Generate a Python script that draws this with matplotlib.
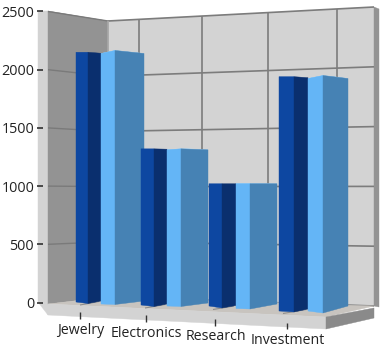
import matplotlib
matplotlib.use("Agg")
import matplotlib.pyplot as plt
from matplotlib.patches import Polygon

categories = ["Jewelry", "Electronics", "Research", "Investment"]
series_a = [2150, 1320, 1020, 1940]
series_b = [2165, 1320, 1020, 1950]
y_ticks = [0, 500, 1000, 1500, 2000, 2500]

# layout in pixels of the 387x355 picture
Y0 = 302.5
K = 291.0 / 2500
bar_x = [(76, 88, 101, 115, 144), (141, 154, 167, 181, 208),
         (209, 222, 236, 250, 277), (279, 294, 308, 323, 348)]
base_a = [(302, 303.5, 301), (305, 306.5, 304), (306, 308, 305.5), (311, 312, 309)]
base_b = [(304, 304.5, 301), (306, 306.5, 303), (308.5, 309, 304), (311, 313, 306)]
tilt = [3, 1, 0, 3]
wall_v = [138.5, 202, 268, 337]
tick_x = [80, 146, 215, 287]
tick_y = [312, 315, 319, 322.5]
label_y = [331, 333.5, 337, 341]

BLUE = "#0d47a1"
NAVY = "#0a2f6e"
LIGHT = "#64b5f6"
STEEL = "#4682b4"
CAP = "#a9d3f5"
WALL = "#d3d3d3"
SIDE = "#939393"
GRID = "#7c7c7c"


def py(p):
    # pixel row to value on the y axis
    return (Y0 - p) / K


def poly(ax, pts, color, z=1):
    ax.add_patch(Polygon([(x, py(y)) for x, y in pts], closed=True, fc=color, ec=color,
                         lw=0.3, zorder=z, clip_on=False))


def line(ax, p0, p1, color=GRID, lw=1.2, z=2):
    ax.plot([p0[0], p1[0]], [py(p0[1]), py(p1[1])], color=color, lw=lw, zorder=z,
            clip_on=False, solid_capstyle="butt")


def back_y(x, v):
    # level v on the back wall, which runs a bit taller on the right
    t = (x - 108.0) / (374 - 108.0)
    left = 297 - v * 276.0 / 2500
    right = 306 - v * 299.0 / 2500
    return left + (right - left) * t


plt.rcParams["font.family"] = ["Open Sans", "DejaVu Sans"]
fig = plt.figure(figsize=(3.87, 3.55), dpi=100)
ax = fig.add_axes([43 / 387, 0, 344 / 387, 1])
ax.set_xlim(43, 387)
ax.set_ylim(py(355), py(0))
for s in ax.spines.values():
    s.set_visible(False)

# walls
poly(ax, [(108, back_y(108, 2500)), (374, back_y(374, 2500)), (374, back_y(374, 0)), (108, back_y(108, 0))], WALL)
poly(ax, [(374, 7), (379, 9), (379, 307), (374, 306)], SIDE)
poly(ax, [(38, 11), (48, 11), (48, 315), (38, 302)], WALL)
poly(ax, [(48, 11), (108, 21), (108, 297), (48, 304)], SIDE)

# grid
for v in y_ticks:
    line(ax, (108, back_y(108, v)), (374, back_y(374, v)))
    if v > 0:
        line(ax, (48, Y0 - v * K), (108, back_y(108, v)), color="#7a7a7a", lw=1.0)
for x in wall_v:
    line(ax, (x, back_y(x, 2500)), (x, back_y(x, 0)))
line(ax, (108, back_y(108, 2500)), (108, back_y(108, 0)), color="#a8a8a8")

# floor
poly(ax, [(48, 304), (108, 297), (374, 306), (326, 317)], "#c8c4bf", z=2.5)
poly(ax, [(48, 304), (326, 317), (326, 329), (48, 315)], WALL, z=2.5)
poly(ax, [(326, 317), (374, 308), (374, 318), (326, 329)], "#8a8a8a", z=2.5)

# bars
for i in range(4):
    x0, x1, x2, x3, x4 = bar_x[i]
    a0, a1, a2 = base_a[i]
    b0, b1, b2 = base_b[i]
    ta = Y0 - series_a[i] * K
    tb = Y0 - series_b[i] * K
    z = 3 + i
    poly(ax, [(x0, ta), (x1, ta), (x1, a1), (x0, a0)], BLUE, z)
    poly(ax, [(x1, ta), (x2, ta + tilt[i] / 3), (x2, a2), (x1, a1)], NAVY, z)
    poly(ax, [(x2, tb + tilt[i]), (x3, tb), (x3 + 6, tb + tilt[i] / 3 - 0.5), (x4, tb + tilt[i])], CAP, z)
    poly(ax, [(x2, tb + tilt[i]), (x3, tb), (x3, b1), (x2, b0)], LIGHT, z)
    poly(ax, [(x3, tb), (x4, tb + tilt[i]), (x4, b2), (x3, b1)], STEEL, z)
    line(ax, (x0 + 4, a1 + 1.5), (x2 - 2, a2 + 0.5), color="#8d8d8d", lw=0.8, z=2.8)

# axes
ax.set_yticks(y_ticks)
ax.set_xticks([])
ax.tick_params(axis="y", length=4.3, width=1.1, color="#222222", pad=2, labelsize=10.4, labelcolor="#222222")
for i in range(4):
    line(ax, (tick_x[i], tick_y[i]), (tick_x[i], tick_y[i] + 6.5), color="#333333", lw=1.0, z=9)
    ax.text(tick_x[i] + 0.5, py(label_y[i]), categories[i], ha="center", va="center", fontsize=10.2,
            color="#222222", zorder=9)

fig.savefig("out.png", dpi=100)
